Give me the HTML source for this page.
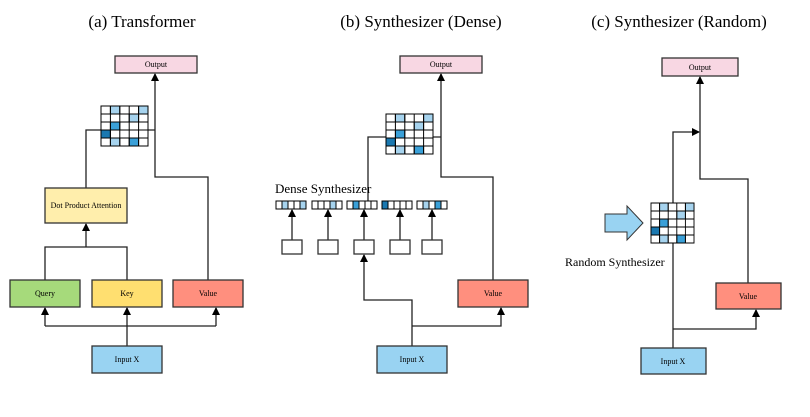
<!DOCTYPE html>
<html><head><meta charset="utf-8"><style>html,body{margin:0;padding:0;background:#fff}</style></head><body>
<svg width="810" height="412" xmlns="http://www.w3.org/2000/svg" font-family="Liberation Serif, serif">
<defs>
<marker id="ar" markerWidth="8" markerHeight="8" refX="7" refY="4" orient="auto" markerUnits="userSpaceOnUse"><path d="M0,0 L8,4 L0,8 z" fill="#000"/></marker>
<g id="mat" stroke="#000" stroke-width="1">
<rect x="0" y="0" width="47" height="40" fill="#fff"/>
<rect x="9.4" y="0" width="9.4" height="8" fill="#a6d3ee"/>
<rect x="37.6" y="0" width="9.4" height="8" fill="#a6d3ee"/>
<rect x="28.2" y="8" width="9.4" height="8" fill="#a6d3ee"/>
<rect x="9.4" y="16" width="9.4" height="8" fill="#3aa0d8"/>
<rect x="0" y="24" width="9.4" height="8" fill="#1a78b0"/>
<rect x="9.4" y="32" width="9.4" height="8" fill="#a6d3ee"/>
<rect x="28.2" y="32" width="9.4" height="8" fill="#3aa0d8"/>
<path d="M9.4,0V40M18.8,0V40M28.2,0V40M37.6,0V40M0,8H47M0,16H47M0,24H47M0,32H47" fill="none"/>
</g>
</defs>
<g font-size="17" text-anchor="middle" fill="#000">
<text x="142" y="27">(a) Transformer</text>
<text x="421" y="27">(b) Synthesizer (Dense)</text>
<text x="679" y="27">(c) Synthesizer (Random)</text>
</g>
<g stroke="#222" stroke-width="1.3" fill="none">
<!-- a -->
<path d="M86,188V130H155"/>
<path d="M208,280V177H155V74" marker-end="url(#ar)"/>
<path d="M45,280V247H127V280"/>
<path d="M86,247V224" marker-end="url(#ar)"/>
<path d="M127,346V326"/>
<path d="M45,326H216"/>
<path d="M45,326V308" marker-end="url(#ar)"/>
<path d="M127,326V308" marker-end="url(#ar)"/>
<path d="M216,326V308" marker-end="url(#ar)"/>
<!-- b -->
<path d="M368,201V137H441"/>
<path d="M493,280V177H441V74" marker-end="url(#ar)"/>
<path d="M292,240V210" marker-end="url(#ar)"/>
<path d="M328,240V210" marker-end="url(#ar)"/>
<path d="M364,240V210" marker-end="url(#ar)"/>
<path d="M400,240V210" marker-end="url(#ar)"/>
<path d="M432,240V210" marker-end="url(#ar)"/>
<path d="M412,346V300H364V255" marker-end="url(#ar)"/>
<path d="M412,326H501V308" marker-end="url(#ar)"/>
<!-- c -->
<path d="M673,203V132H699" marker-end="url(#ar)"/>
<path d="M748,283V179H700V77" marker-end="url(#ar)"/>
<path d="M673,348V243"/>
<path d="M673,329H756V310" marker-end="url(#ar)"/>
</g>
<g stroke="#333" stroke-width="1.3" font-size="8" text-anchor="middle">
<rect x="115" y="56" width="82" height="17" fill="#f8d7e3"/><text x="156" y="67" stroke="none">Output</text>
<rect x="45" y="188" width="82" height="35" fill="#ffeeac"/><text x="86" y="208" stroke="none">Dot Product Attention</text>
<rect x="10" y="280" width="70" height="27" fill="#a6da7b"/><text x="45" y="296" stroke="none">Query</text>
<rect x="92" y="280" width="70" height="27" fill="#ffdf70"/><text x="127" y="296" stroke="none">Key</text>
<rect x="173" y="280" width="70" height="27" fill="#ff8f7e"/><text x="208" y="296" stroke="none">Value</text>
<rect x="92" y="346" width="70" height="27" fill="#99d3f2"/><text x="127" y="362" stroke="none">Input X</text>

<rect x="400" y="56" width="82" height="17" fill="#f8d7e3"/><text x="441" y="67" stroke="none">Output</text>
<rect x="458" y="280" width="70" height="27" fill="#ff8f7e"/><text x="493" y="296" stroke="none">Value</text>
<rect x="377" y="346" width="70" height="27" fill="#99d3f2"/><text x="412" y="362" stroke="none">Input X</text>
<g fill="#fff"><rect x="282" y="240" width="20" height="14"/><rect x="318" y="240" width="20" height="14"/><rect x="354" y="240" width="20" height="14"/><rect x="390" y="240" width="20" height="14"/><rect x="422" y="240" width="20" height="14"/></g>

<rect x="662" y="58" width="76" height="18" fill="#f8d7e3"/><text x="700" y="70" stroke="none">Output</text>
<rect x="716" y="283" width="65" height="26" fill="#ff8f7e"/><text x="748" y="299" stroke="none">Value</text>
<rect x="641" y="348" width="65" height="26" fill="#99d3f2"/><text x="673" y="364" stroke="none">Input X</text>
</g>
<use href="#mat" x="101" y="106"/>
<use href="#mat" x="386" y="114"/>
<g transform="translate(651,203) scale(0.915,1)"><use href="#mat"/></g>
<!-- vectors -->
<g stroke="#000" stroke-width="1">
<g transform="translate(276,201)"><rect width="30" height="8" fill="#fff"/><rect x="6" width="6" height="8" fill="#a6d3ee"/><rect x="24" width="6" height="8" fill="#a6d3ee"/><path d="M6,0V8M12,0V8M18,0V8M24,0V8"/></g>
<g transform="translate(312,201)"><rect width="30" height="8" fill="#fff"/><rect x="18" width="6" height="8" fill="#a6d3ee"/><path d="M6,0V8M12,0V8M18,0V8M24,0V8"/></g>
<g transform="translate(347,201)"><rect width="30" height="8" fill="#fff"/><rect x="6" width="6" height="8" fill="#3aa0d8"/><path d="M6,0V8M12,0V8M18,0V8M24,0V8"/></g>
<g transform="translate(382,201)"><rect width="30" height="8" fill="#fff"/><rect x="0" width="6" height="8" fill="#1a78b0"/><path d="M6,0V8M12,0V8M18,0V8M24,0V8"/></g>
<g transform="translate(417,201)"><rect width="30" height="8" fill="#fff"/><rect x="6" width="6" height="8" fill="#a6d3ee"/><rect x="18" width="6" height="8" fill="#3aa0d8"/><path d="M6,0V8M12,0V8M18,0V8M24,0V8"/></g>
</g>
<text x="275" y="193" font-size="13">Dense Synthesizer</text>
<path d="M605,214H627V206L643,223L627,240V232H605Z" fill="#99d3f2" stroke="#333" stroke-width="1"/>
<text x="565" y="266" font-size="12">Random Synthesizer</text>
</svg>
</body></html>
